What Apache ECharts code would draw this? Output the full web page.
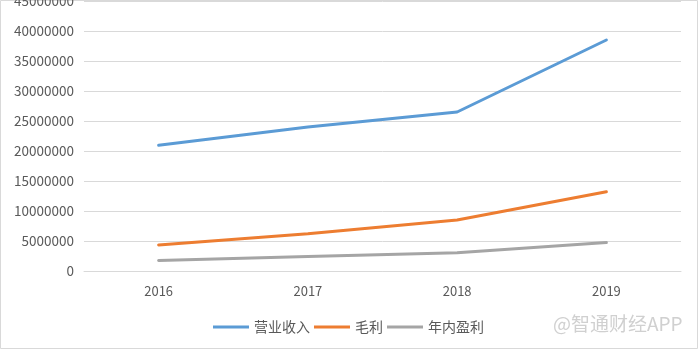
<!DOCTYPE html>
<html>
<head>
<meta charset="utf-8">
<script src="https://cdn.jsdelivr.net/npm/echarts@6/dist/echarts.min.js"></script>
<style>html,body{margin:0;padding:0;background:#fff;}#c{width:699px;height:350px;}</style>
</head>
<body>
<div id="c"></div>
<script>
var categories = ['2016', '2017', '2018', '2019'];
var revenue = [20950000, 24000000, 26500000, 38500000];
var grossProfit = [4350000, 6200000, 8500000, 13200000];
var netProfit = [1750000, 2400000, 3050000, 4750000];
var seriesNames = ['营业收入', '毛利', '年内盈利'];

var chart = echarts.init(document.getElementById('c'));
var font = '"Microsoft YaHei", "Noto Sans CJK SC", "DejaVu Sans", sans-serif';
function line(name, data, color) {
  return {
    name: name, type: 'line', data: data, symbol: 'none', smooth: false,
    lineStyle: { color: color, width: 3, cap: 'round' }, itemStyle: { color: color }
  };
}
chart.setOption({
  animation: false,
  textStyle: { fontFamily: font },
  grid: { left: 84, right: 18, top: 1, bottom: 79, containLabel: false, outerBoundsMode: 'none' },
  xAxis: {
    type: 'category', data: categories, boundaryGap: true,
    axisLine: { show: true, lineStyle: { color: '#d9d9d9' } },
    axisTick: { show: false },
    axisLabel: { color: '#595959', fontSize: 13, margin: 14, fontFamily: font }
  },
  yAxis: {
    type: 'value', min: 0, max: 45000000, interval: 5000000,
    axisLine: { show: false }, axisTick: { show: false },
    splitLine: { lineStyle: { color: '#d9d9d9', width: 1 } },
    axisLabel: { color: '#595959', fontSize: 13.5, margin: 10, fontFamily: font, formatter: function (v) { return String(v); } }
  },
  legend: {
    data: seriesNames, left: 208, top: 315, itemWidth: 36, itemHeight: 3, itemGap: 4,
    icon: 'rect',
    textStyle: { color: '#595959', fontSize: 14, fontFamily: font }
  },
  graphic: [
    { type: 'rect', shape: { x: 0.5, y: 0.5, width: 697, height: 348 }, style: { fill: 'none', stroke: '#d9d9d9', lineWidth: 1 }, silent: true },
    { type: 'text', left: 553, top: 314, style: { text: '@智通财经APP', fill: '#d0d0d0', font: '19px ' + font } }
  ],
  series: [
    line(seriesNames[0], revenue, '#5B9BD5'),
    line(seriesNames[1], grossProfit, '#ED7D31'),
    line(seriesNames[2], netProfit, '#A5A5A5')
  ]
});
</script>
</body>
</html>
